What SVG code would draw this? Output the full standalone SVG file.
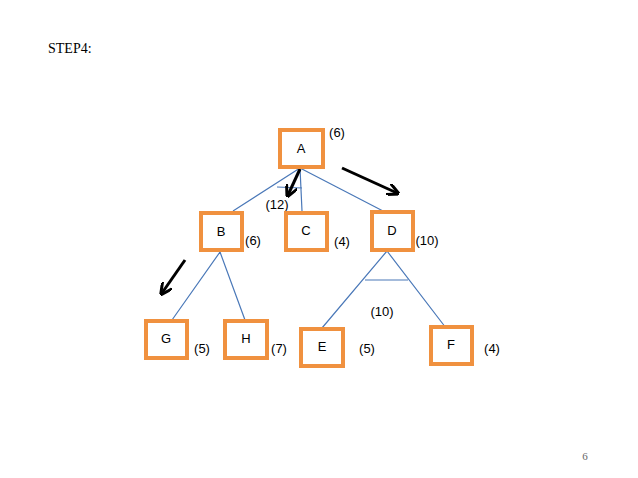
<svg xmlns="http://www.w3.org/2000/svg" width="638" height="478" viewBox="0 0 638 478">
<defs>
<style>
.b{fill:#fff;stroke:#F0913F;stroke-width:4}
.t{font-family:"Liberation Sans",Arial,sans-serif;font-size:13px;fill:#000;text-anchor:middle}
.l{stroke:#4A78B8;stroke-width:1.2;fill:none}
.a{stroke:#000;stroke-width:3;fill:none;marker-end:url(#ah)}
</style>
<marker id="ah" viewBox="0 0 10 10" refX="8" refY="5" markerWidth="4" markerHeight="4" orient="auto"><path d="M0,0 L10,5 L0,10" fill="none" stroke="#000" stroke-width="2.5"/></marker>
</defs>
<rect width="638" height="478" fill="#fff"/>
<text x="48" y="53" font-family="Liberation Serif,serif" font-size="14">STEP4:</text>
<text x="585" y="460" font-family="Liberation Serif,serif" font-size="11" fill="#666" text-anchor="middle">6</text>
<g id="connectors">
<path class="l" d="M300,168 L233,211 M300,168 L302,211 M300,168 L383,211 M277,187 L302,188"/>
<path class="l" d="M220,252 L172,320 M220,252 L245,320 M387,251 L322,328 M387,251 L446,328 M365,280 L408,280"/>
<path class="a" d="M300,169 L288,195"/>
<path class="a" d="M342,168 L397,193"/>
<path class="a" d="M185,260 L162,293"/>
</g>
<g id="A"><rect class="b" x="280" y="130" width="43" height="37"/><text class="t" x="301" y="153">A</text><text class="t" x="337" y="137">(6)</text></g>
<text class="t" x="277" y="209">(12)</text>
<g id="B"><rect class="b" x="201" y="213" width="41" height="37"/><text class="t" x="221" y="236">B</text><text class="t" x="253" y="245">(6)</text></g>
<g id="C"><rect class="b" x="286" y="213" width="41" height="37"/><text class="t" x="306" y="235">C</text><text class="t" x="342" y="246">(4)</text></g>
<g id="D"><rect class="b" x="372" y="212" width="41" height="38"/><text class="t" x="392" y="235">D</text><text class="t" x="427" y="245">(10)</text></g>
<g id="G"><rect class="b" x="146" y="321" width="41" height="37"/><text class="t" x="166" y="343">G</text><text class="t" x="202" y="353">(5)</text></g>
<g id="H"><rect class="b" x="225" y="321" width="42" height="37"/><text class="t" x="246" y="343">H</text><text class="t" x="279" y="353">(7)</text></g>
<g id="E"><rect class="b" x="301" y="329" width="42" height="37"/><text class="t" x="322" y="351">E</text><text class="t" x="367" y="353">(5)</text></g>
<g id="F"><rect class="b" x="431" y="327" width="41" height="37"/><text class="t" x="451" y="349">F</text><text class="t" x="492" y="353">(4)</text></g>
<text class="t" x="382" y="316">(10)</text>
</svg>
